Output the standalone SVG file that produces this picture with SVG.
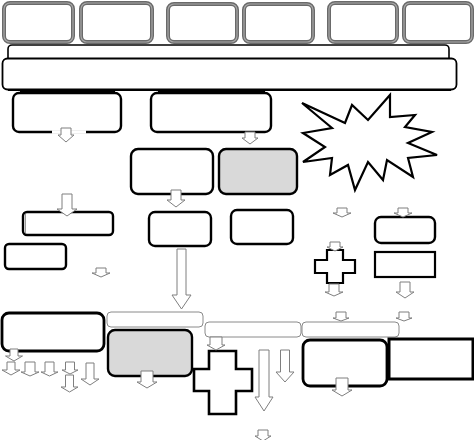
<svg xmlns="http://www.w3.org/2000/svg" width="474" height="440" viewBox="0 0 474 440">
<style>
.top{fill:#fff;stroke:#6a6a6a;stroke-width:4}
.topi{fill:none;stroke:#a8a8a8;stroke-width:1.2}
.bx{fill:#fff;stroke:#000;stroke-width:2.4}
.gr{fill:#d9d9d9;stroke:#000;stroke-width:2.4}
.thin{fill:#fff;stroke:#8a8a8a;stroke-width:1}
.ar{fill:#fff;stroke:#7f7f7f;stroke-width:1}
</style>
<rect width="474" height="440" fill="#fff"/>
<g id="top-row">
<g id="t1"><rect x="4" y="3" width="69" height="39" rx="6" class="top"/><rect x="4" y="3" width="69" height="39" rx="6" class="topi"/></g>
<g id="t2"><rect x="81" y="3" width="71" height="39" rx="6" class="top"/><rect x="81" y="3" width="71" height="39" rx="6" class="topi"/></g>
<g id="t3"><rect x="168" y="4" width="69" height="38" rx="6" class="top"/><rect x="168" y="4" width="69" height="38" rx="6" class="topi"/></g>
<g id="t4"><rect x="244" y="4" width="69" height="38" rx="6" class="top"/><rect x="244" y="4" width="69" height="38" rx="6" class="topi"/></g>
<g id="t5"><rect x="329" y="3" width="68" height="39" rx="6" class="top"/><rect x="329" y="3" width="68" height="39" rx="6" class="topi"/></g>
<g id="t6"><rect x="404" y="3" width="68" height="39" rx="6" class="top"/><rect x="404" y="3" width="68" height="39" rx="6" class="topi"/></g>
</g>
<g id="bar1"><rect x="8" y="45" width="441" height="20" rx="4" fill="#fff" stroke="#000" stroke-width="1.6"/></g>
<g id="bar2"><rect x="2.5" y="58.5" width="454" height="31" rx="5" fill="#fff" stroke="#000" stroke-width="1.8"/><line x1="8" y1="90" x2="451" y2="90" stroke="#000" stroke-width="2"/></g>
<g id="boxA"><rect x="13" y="93" width="108" height="39" rx="6" class="bx"/><line x1="52" y1="132" x2="86" y2="132" stroke="#fff" stroke-width="3.5"/><line x1="20" y1="92" x2="115" y2="92" stroke="#000" stroke-width="2.5"/></g>
<g id="boxB"><rect x="151" y="93" width="120" height="39" rx="6" class="bx"/><line x1="158" y1="92" x2="265" y2="92" stroke="#000" stroke-width="2.5"/></g>
<g id="burst"><polygon points="302,103 345,123 352,105 368,120 390,95 390,117 415,115 405,127 432,132 408,143 437,155 408,158 413,177 387,160 383,180 368,162 355,190 348,165 330,175 332,158 303,162 325,147 303,133 332,128" fill="#fff" stroke="#000" stroke-width="2.2" stroke-linejoin="miter"/></g>
<g id="boxC"><rect x="131" y="149" width="82" height="45" rx="7" class="bx"/></g>
<g id="boxD"><rect x="219" y="149" width="78" height="45" rx="7" class="gr"/></g>
<g id="boxE"><rect x="23" y="212" width="90" height="23" rx="4" class="bx"/><line x1="25.5" y1="214" x2="25.5" y2="233" stroke="#999" stroke-width="1"/></g>
<g id="boxF"><rect x="5" y="244" width="61" height="25" rx="4" class="bx"/></g>
<g id="boxG"><rect x="149" y="212" width="62" height="34" rx="6" class="bx"/></g>
<g id="boxH"><rect x="231" y="210" width="62" height="34" rx="6" class="bx"/></g>
<g id="boxI"><rect x="375" y="217" width="60" height="26" rx="6" class="bx"/></g>
<g id="rectJ"><rect x="375" y="252" width="60" height="25" fill="#fff" stroke="#000" stroke-width="2.2"/></g>
<g id="cross1"><polygon points="327,250 343,250 343,260 355,260 355,273 343,273 343,283 327,283 327,273 315,273 315,260 327,260" fill="#fff" stroke="#000" stroke-width="2.2"/></g>
<g id="boxK"><rect x="2" y="313" width="102" height="38" rx="7" fill="#fff" stroke="#000" stroke-width="2.8"/></g>
<g id="thinL"><rect x="107" y="312" width="96" height="15" rx="4" class="thin"/></g>
<g id="thinL2"><rect x="205" y="322" width="96" height="15" rx="4" class="thin"/></g>
<g id="thinL3"><rect x="302" y="322" width="97" height="15" rx="4" class="thin"/></g>
<g id="boxM"><rect x="108" y="330" width="84" height="46" rx="7" class="gr"/></g>
<g id="cross2"><polygon points="209,351 236,351 236,369 252,369 252,391 236,391 236,414 209,414 209,391 194,391 194,369 209,369" fill="#fff" stroke="#000" stroke-width="2.6"/></g>
<g id="boxO"><rect x="303" y="340" width="84" height="46" rx="7" fill="#fff" stroke="#000" stroke-width="2.8"/></g>
<g id="rectP"><rect x="389" y="339" width="84" height="40" fill="#fff" stroke="#000" stroke-width="3"/></g>
<g id="connectors">
<path class="ar" d="M61,128 H71 V135 H74 L66,142 L58,135 H61 Z"/>
<path class="ar" d="M245,132 H255 V138 H258 L250,144 L242,138 H245 Z"/>
<path class="ar" d="M62,194 H72 V209 H77 L67,216 L57,209 H62 Z"/>
<path class="ar" d="M171,190 H181 V200 H185 L176,207 L167,200 H171 Z"/>
<path class="ar" d="M96,268 H106 V273 H110 L101,277 L92,273 H96 Z"/>
<path class="ar" d="M177,249 H186 V295 H191 L181.5,309 L172,295 H177 Z"/>
<path class="ar" d="M337,208 H347 V213 H351 L342,217 L333,213 H337 Z"/>
<path class="ar" d="M398,208 H408 V213 H412 L403,217 L394,213 H398 Z"/>
<path class="ar" d="M330,242 H340 V247 H343 L335,251 L327,247 H330 Z"/>
<path class="ar" d="M329,284 H339 V292 H343 L334,296 L325,292 H329 Z"/>
<path class="ar" d="M400,282 H410 V292 H414 L405,298 L396,292 H400 Z"/>
<path class="ar" d="M336,312 H346 V318 H349 L341,321 L333,318 H336 Z"/>
<path class="ar" d="M399,312 H409 V318 H412 L404,321 L396,318 H399 Z"/>
<path class="ar" d="M210,337 H222 V345 H225 L216,350 L207,345 H210 Z"/>
<path class="ar" d="M259,350 H269 V397 H273 L264,411 L255,397 H259 Z"/>
<path class="ar" d="M280.5,350 H289.5 V372 H294 L285,382 L276,372 H280.5 Z"/>
<path class="ar" d="M336,378 H348 V390 H352 L342,396 L332,390 H336 Z"/>
<path class="ar" d="M258,430 H268 V436 H271 L263,441 L255,436 H258 Z"/>
<path class="ar" d="M10,349 H18 V356 H22.5 L14,361 L5.5,356 H10 Z"/>
<path class="ar" d="M7,362 H15 V370 H20 L11,375 L2,370 H7 Z"/>
<path class="ar" d="M25,362 H35 V372 H39 L30,376 L21,372 H25 Z"/>
<path class="ar" d="M45,362 H54 V372 H58 L49.5,376 L41,372 H45 Z"/>
<path class="ar" d="M65.5,375 H73.5 V387 H78 L69.5,392 L61,387 H65.5 Z"/>
<path class="ar" d="M65.5,362 H74.5 V370 H78 L70,374 L62,370 H65.5 Z"/>
<path class="ar" d="M86,363 H94 V379 H99 L90,385 L81,379 H86 Z"/>
<path class="ar" d="M141,371 H153 V382 H157 L147,388 L137,382 H141 Z"/>
</g>
</svg>
